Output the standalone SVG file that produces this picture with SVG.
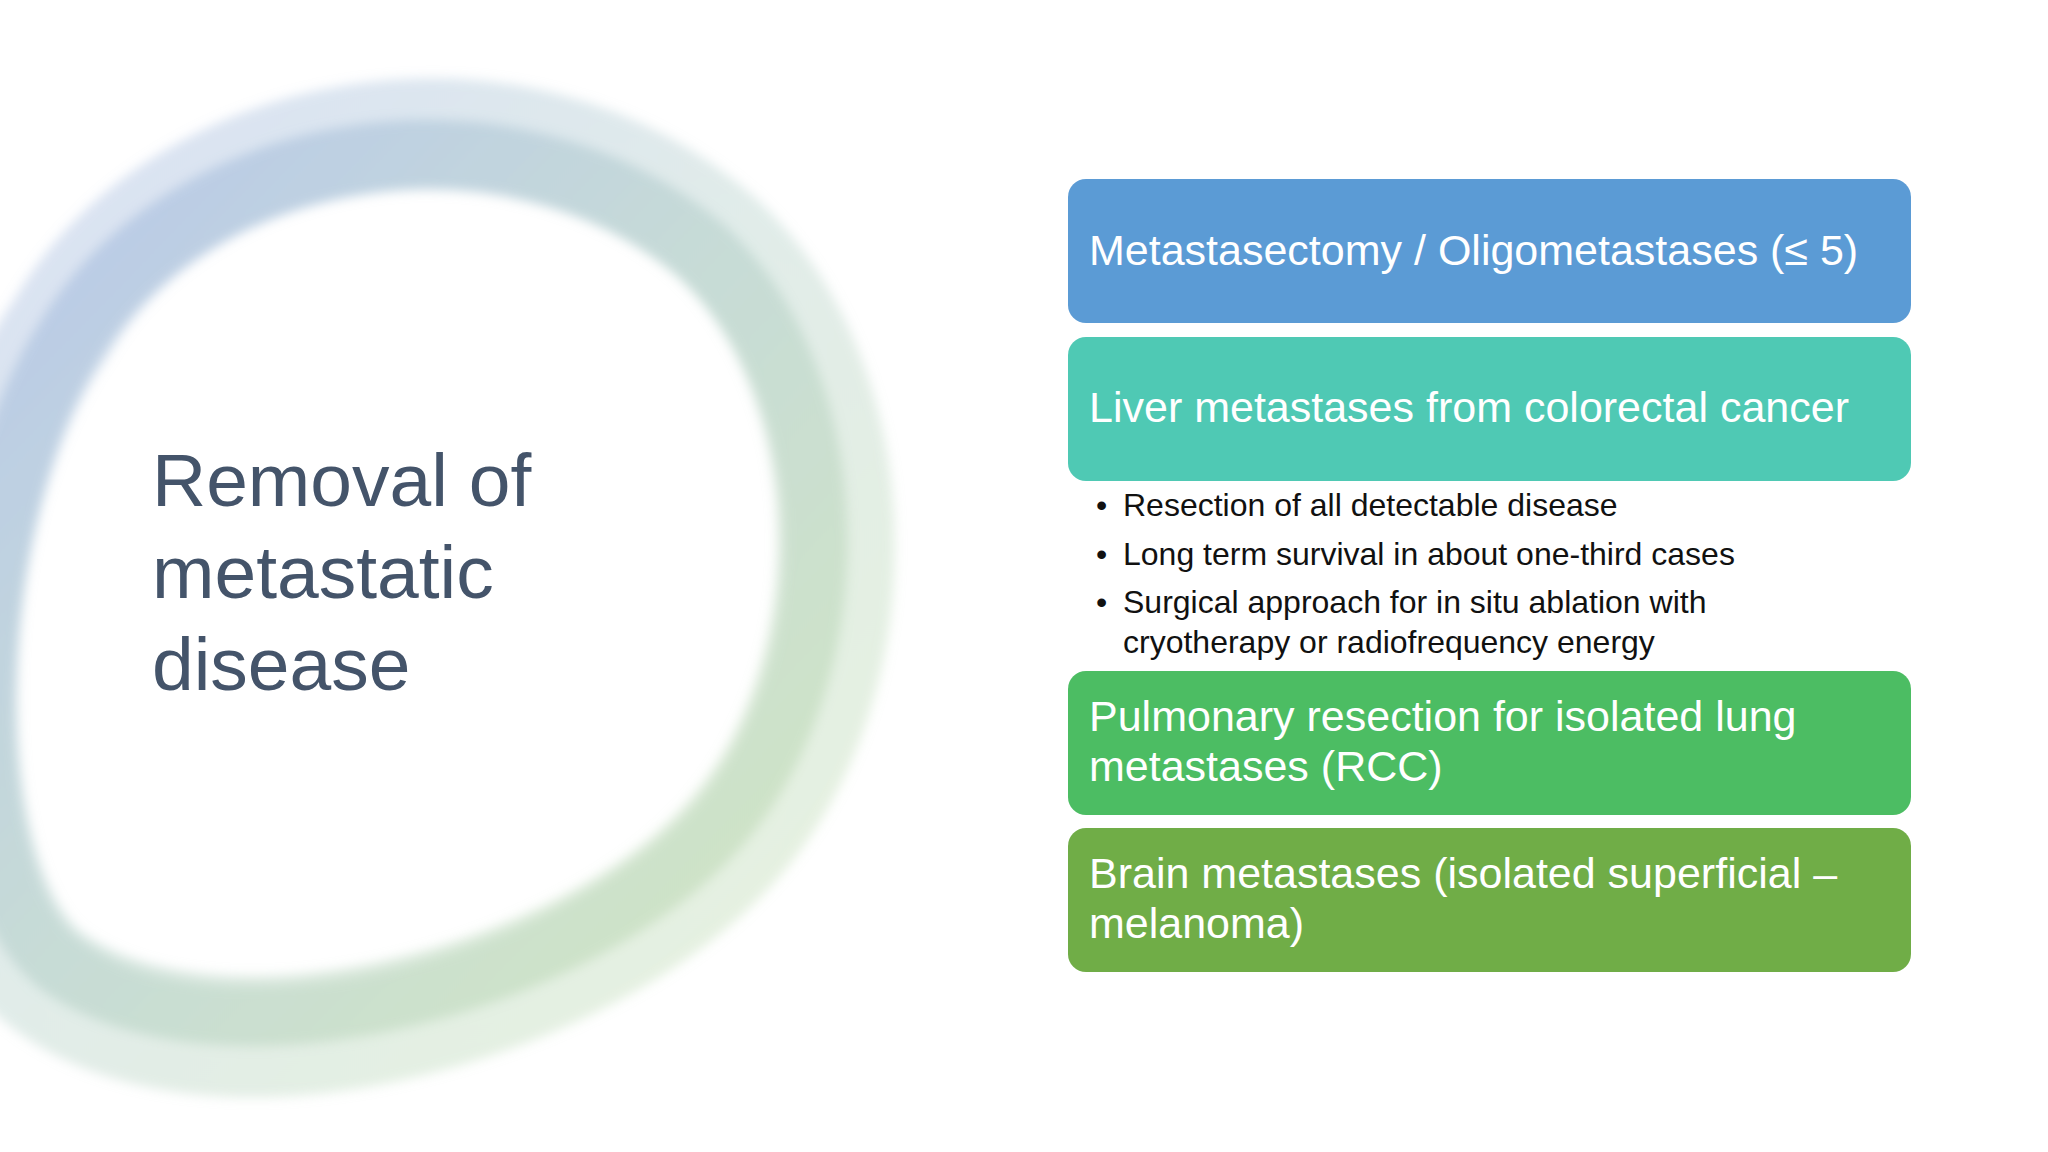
<svg xmlns="http://www.w3.org/2000/svg" width="2048" height="1152" viewBox="0 0 2048 1152">
<defs>
<linearGradient id="rg" x1="0" y1="0" x2="1" y2="1">
<stop offset="0" stop-color="#8fa8e0"/><stop offset="0.5" stop-color="#a8c8c0"/><stop offset="1" stop-color="#b8d8a0"/>
</linearGradient>
<filter id="bl"><feGaussianBlur stdDeviation="6"/></filter>
<style>
.box text{font-family:"Liberation Sans",Arial,sans-serif;font-size:43px;fill:#fff}
.bt{font-family:"Liberation Sans",Arial,sans-serif;font-size:32px;fill:#111}
</style>
</defs>
<rect width="2048" height="1152" fill="#fff"/>
<g id="ring" fill="none" stroke="url(#rg)" filter="url(#bl)">
<path d="M60,330 C180,120 520,60 720,240 C880,390 880,700 720,860 C560,1020 200,1110 40,980 C-80,880 -60,500 60,330 Z" stroke-width="110" opacity="0.35"/>
<path d="M70,340 C190,140 510,90 700,250 C850,390 850,690 700,840 C550,990 210,1070 60,960 C-50,870 -40,510 70,340 Z" stroke-width="70" opacity="0.45"/>
</g>
<g id="title" font-family="Liberation Sans,Arial,sans-serif" font-size="75" fill="#44546a">
<text x="152" y="506">Removal of</text>
<text x="152" y="598">metastatic</text>
<text x="152" y="690">disease</text>
</g>
<g id="n1" class="box"><rect x="1068" y="179" width="843" height="144" rx="18" fill="#5b9bd5"/><text x="1089" y="265">Metastasectomy / Oligometastases (≤ 5)</text></g>
<g id="n2" class="box"><rect x="1068" y="337" width="843" height="144" rx="18" fill="#4fc9b4"/><text x="1089" y="422">Liver metastases from colorectal cancer</text></g>
<g id="bullets" class="bt">
<text x="1096" y="516">•</text><text x="1123" y="516">Resection of all detectable disease</text>
<text x="1096" y="565">•</text><text x="1123" y="565">Long term survival in about one-third cases</text>
<text x="1096" y="613">•</text><text x="1123" y="613">Surgical approach for in situ ablation with</text>
<text x="1123" y="653">cryotherapy or radiofrequency energy</text>
</g>
<g id="n3" class="box"><rect x="1068" y="671" width="843" height="144" rx="18" fill="#4cbd63"/><text x="1089" y="731">Pulmonary resection for isolated lung</text><text x="1089" y="781">metastases (RCC)</text></g>
<g id="n4" class="box"><rect x="1068" y="828" width="843" height="144" rx="18" fill="#70ad47"/><text x="1089" y="888">Brain metastases (isolated superficial –</text><text x="1089" y="938">melanoma)</text></g>
<g id="connectors"/>
</svg>
